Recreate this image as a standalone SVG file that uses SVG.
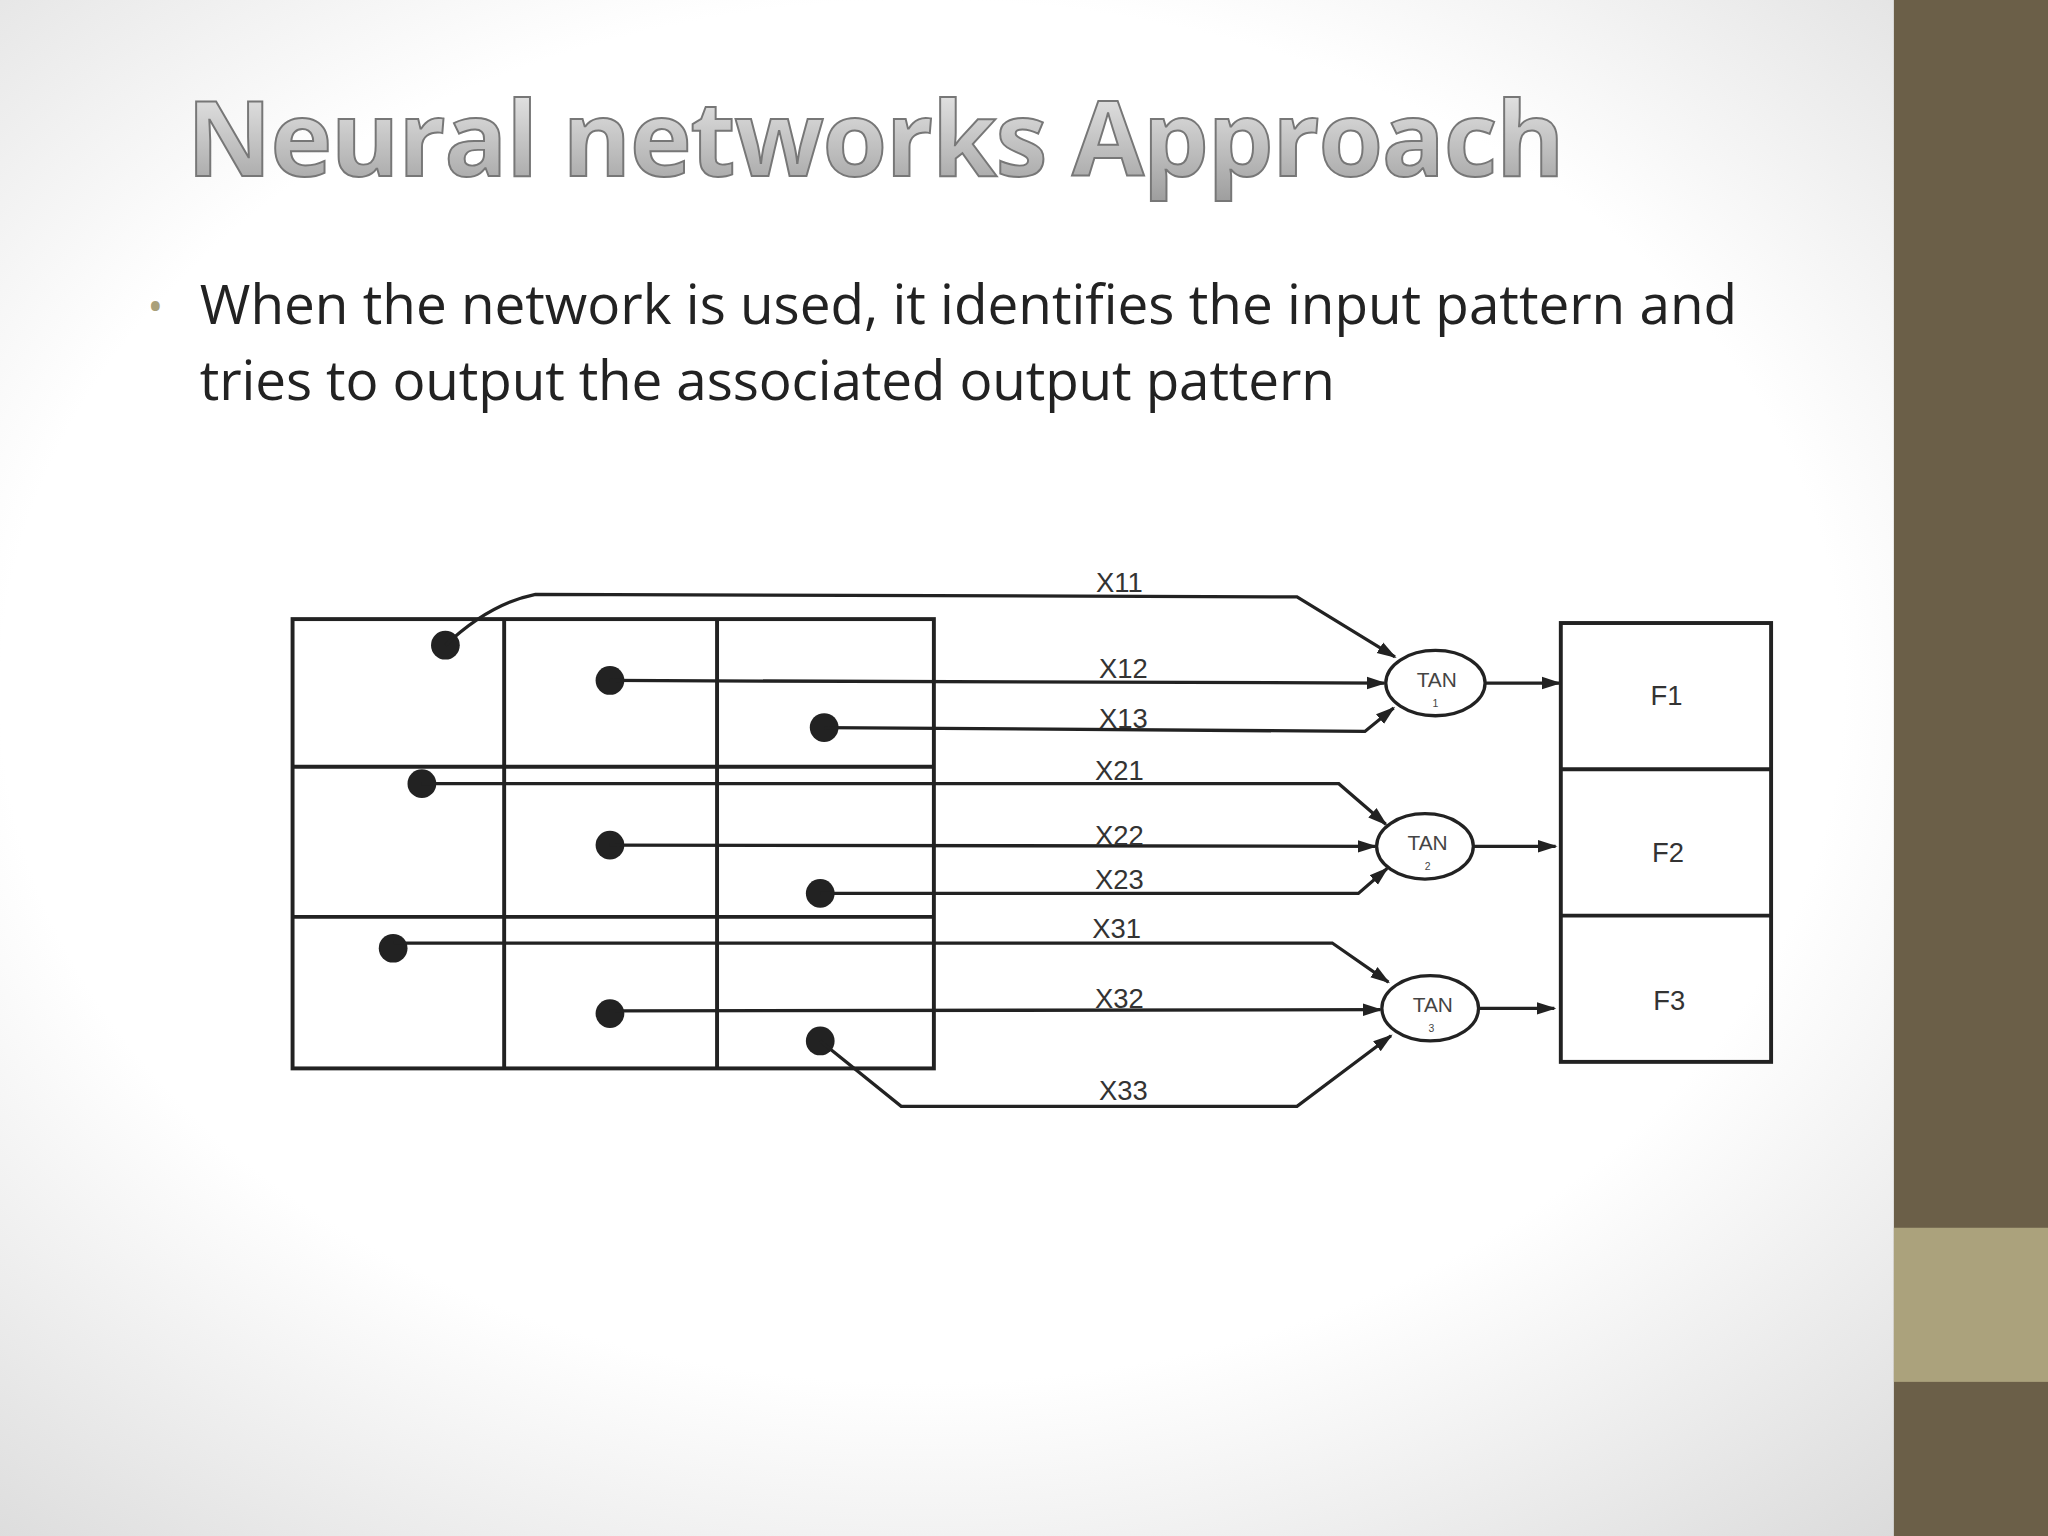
<svg xmlns="http://www.w3.org/2000/svg" width="2048" height="1536" viewBox="0 0 2048 1536">
<defs>
<radialGradient id="bg" cx="0.45" cy="0.45" r="0.75">
<stop offset="0.6" stop-color="#ffffff"/><stop offset="1" stop-color="#d8d8d8"/>
</radialGradient>
<linearGradient id="tg" x1="0" y1="0" x2="0" y2="1">
<stop offset="0" stop-color="#f4f4f4"/><stop offset="1" stop-color="#9a9a9a"/>
</linearGradient>
<marker id="ah" viewBox="0 0 10 10" refX="9" refY="5" markerWidth="15" markerHeight="12" orient="auto" markerUnits="userSpaceOnUse" preserveAspectRatio="none">
<path d="M0,1 L10,5 L0,9 z" fill="#222"/>
</marker>
<style>
.ln{fill:none;stroke:#222;stroke-width:2.5;}
.bx{fill:none;stroke:#222;stroke-width:3;}
.dot{fill:#222;}
.lb{font-family:"Liberation Sans",Arial,sans-serif;font-size:21px;fill:#333;text-anchor:middle;}
.tan{font-family:"Liberation Sans",Arial,sans-serif;font-size:16px;fill:#444;text-anchor:middle;}
.sub{font-family:"Liberation Sans",Arial,sans-serif;font-size:8px;fill:#444;text-anchor:middle;}
</style>
</defs>
<g transform="scale(1.30612)">
<rect width="1568" height="1176" fill="url(#bg)"/>
<rect x="1450" y="0" width="118" height="1176" fill="#6b5f48"/>
<rect x="1450" y="940" width="118" height="118" fill="#aba27c"/>
<text x="143" y="135" font-family="'Open Sans','Liberation Sans',sans-serif" font-weight="bold" font-size="80" fill="url(#tg)" stroke="#777" stroke-width="1.5" textLength="1055">Neural networks Approach</text>
<text x="113" y="246" font-family="'Open Sans','Liberation Sans',sans-serif" font-size="32" fill="#a9a07a">•</text>
<text x="153" y="248" font-family="'Open Sans','Liberation Sans',sans-serif" font-size="42" fill="#222" textLength="1177">When the network is used, it identifies the input pattern and</text>
<text x="153" y="306" font-family="'Open Sans','Liberation Sans',sans-serif" font-size="42" fill="#222" textLength="869">tries to output the associated output pattern</text>

<g id="input-grid">
<rect class="bx" x="224" y="474" width="491" height="344"/>
<line class="bx" x1="386" y1="474" x2="386" y2="818"/>
<line class="bx" x1="549" y1="474" x2="549" y2="818"/>
<line class="bx" x1="224" y1="587" x2="715" y2="587"/>
<line class="bx" x1="224" y1="702" x2="715" y2="702"/>
</g>
<g id="dots">
<circle class="dot" cx="341" cy="494" r="11"/><circle class="dot" cx="467" cy="521" r="11"/><circle class="dot" cx="631" cy="557" r="11"/>
<circle class="dot" cx="323" cy="600" r="11"/><circle class="dot" cx="467" cy="647" r="11"/><circle class="dot" cx="628" cy="684" r="11"/>
<circle class="dot" cx="301" cy="726" r="11"/><circle class="dot" cx="467" cy="776" r="11"/><circle class="dot" cx="628" cy="797" r="11"/>
</g>
<g id="connectors">
<path class="ln" marker-end="url(#ah)" d="M341,494 Q375,462 410,455 L993,457 L1068,503"/>
<path class="ln" marker-end="url(#ah)" d="M467,521 L1060,523"/>
<path class="ln" marker-end="url(#ah)" d="M631,557 L1045,560 L1067,542"/>
<path class="ln" marker-end="url(#ah)" d="M323,600 L1025,600 L1061,631"/>
<path class="ln" marker-end="url(#ah)" d="M467,647 L1053,648"/>
<path class="ln" marker-end="url(#ah)" d="M628,684 L1040,684 L1062,665"/>
<path class="ln" marker-end="url(#ah)" d="M301,722 L1020,722 L1063,752"/>
<path class="ln" marker-end="url(#ah)" d="M467,774 L1057,773"/>
<path class="ln" marker-end="url(#ah)" d="M628,797 L690,847 L993,847 L1065,793"/>
<path class="ln" marker-end="url(#ah)" d="M1136,523 L1194,523"/>
<path class="ln" marker-end="url(#ah)" d="M1128,648 L1191,648"/>
<path class="ln" marker-end="url(#ah)" d="M1132,772 L1190,772"/>
</g>
<g id="labels">
<text class="lb" x="857" y="453">X11</text><text class="lb" x="860" y="519">X12</text><text class="lb" x="860" y="557">X13</text>
<text class="lb" x="857" y="597">X21</text><text class="lb" x="857" y="647">X22</text><text class="lb" x="857" y="681">X23</text>
<text class="lb" x="855" y="718">X31</text><text class="lb" x="857" y="772">X32</text><text class="lb" x="860" y="842">X33</text>
</g>
<g id="tan1"><ellipse cx="1099" cy="523" rx="38" ry="25" fill="#fff" stroke="#222" stroke-width="2.5"/><text class="tan" x="1100" y="526">TAN</text><text class="sub" x="1099" y="541">1</text></g>
<g id="tan2"><ellipse cx="1091" cy="648" rx="37" ry="25" fill="#fff" stroke="#222" stroke-width="2.5"/><text class="tan" x="1093" y="651">TAN</text><text class="sub" x="1093" y="666">2</text></g>
<g id="tan3"><ellipse cx="1095" cy="772" rx="37" ry="25" fill="#fff" stroke="#222" stroke-width="2.5"/><text class="tan" x="1097" y="775">TAN</text><text class="sub" x="1096" y="790">3</text></g>
<g id="outputs">
<rect class="bx" x="1195" y="477" width="161" height="336"/>
<line class="bx" x1="1195" y1="589" x2="1356" y2="589"/>
<line class="bx" x1="1195" y1="701" x2="1356" y2="701"/>
<text class="lb" x="1276" y="540">F1</text><text class="lb" x="1277" y="660">F2</text><text class="lb" x="1278" y="773">F3</text>
</g>
</g>
</svg>
